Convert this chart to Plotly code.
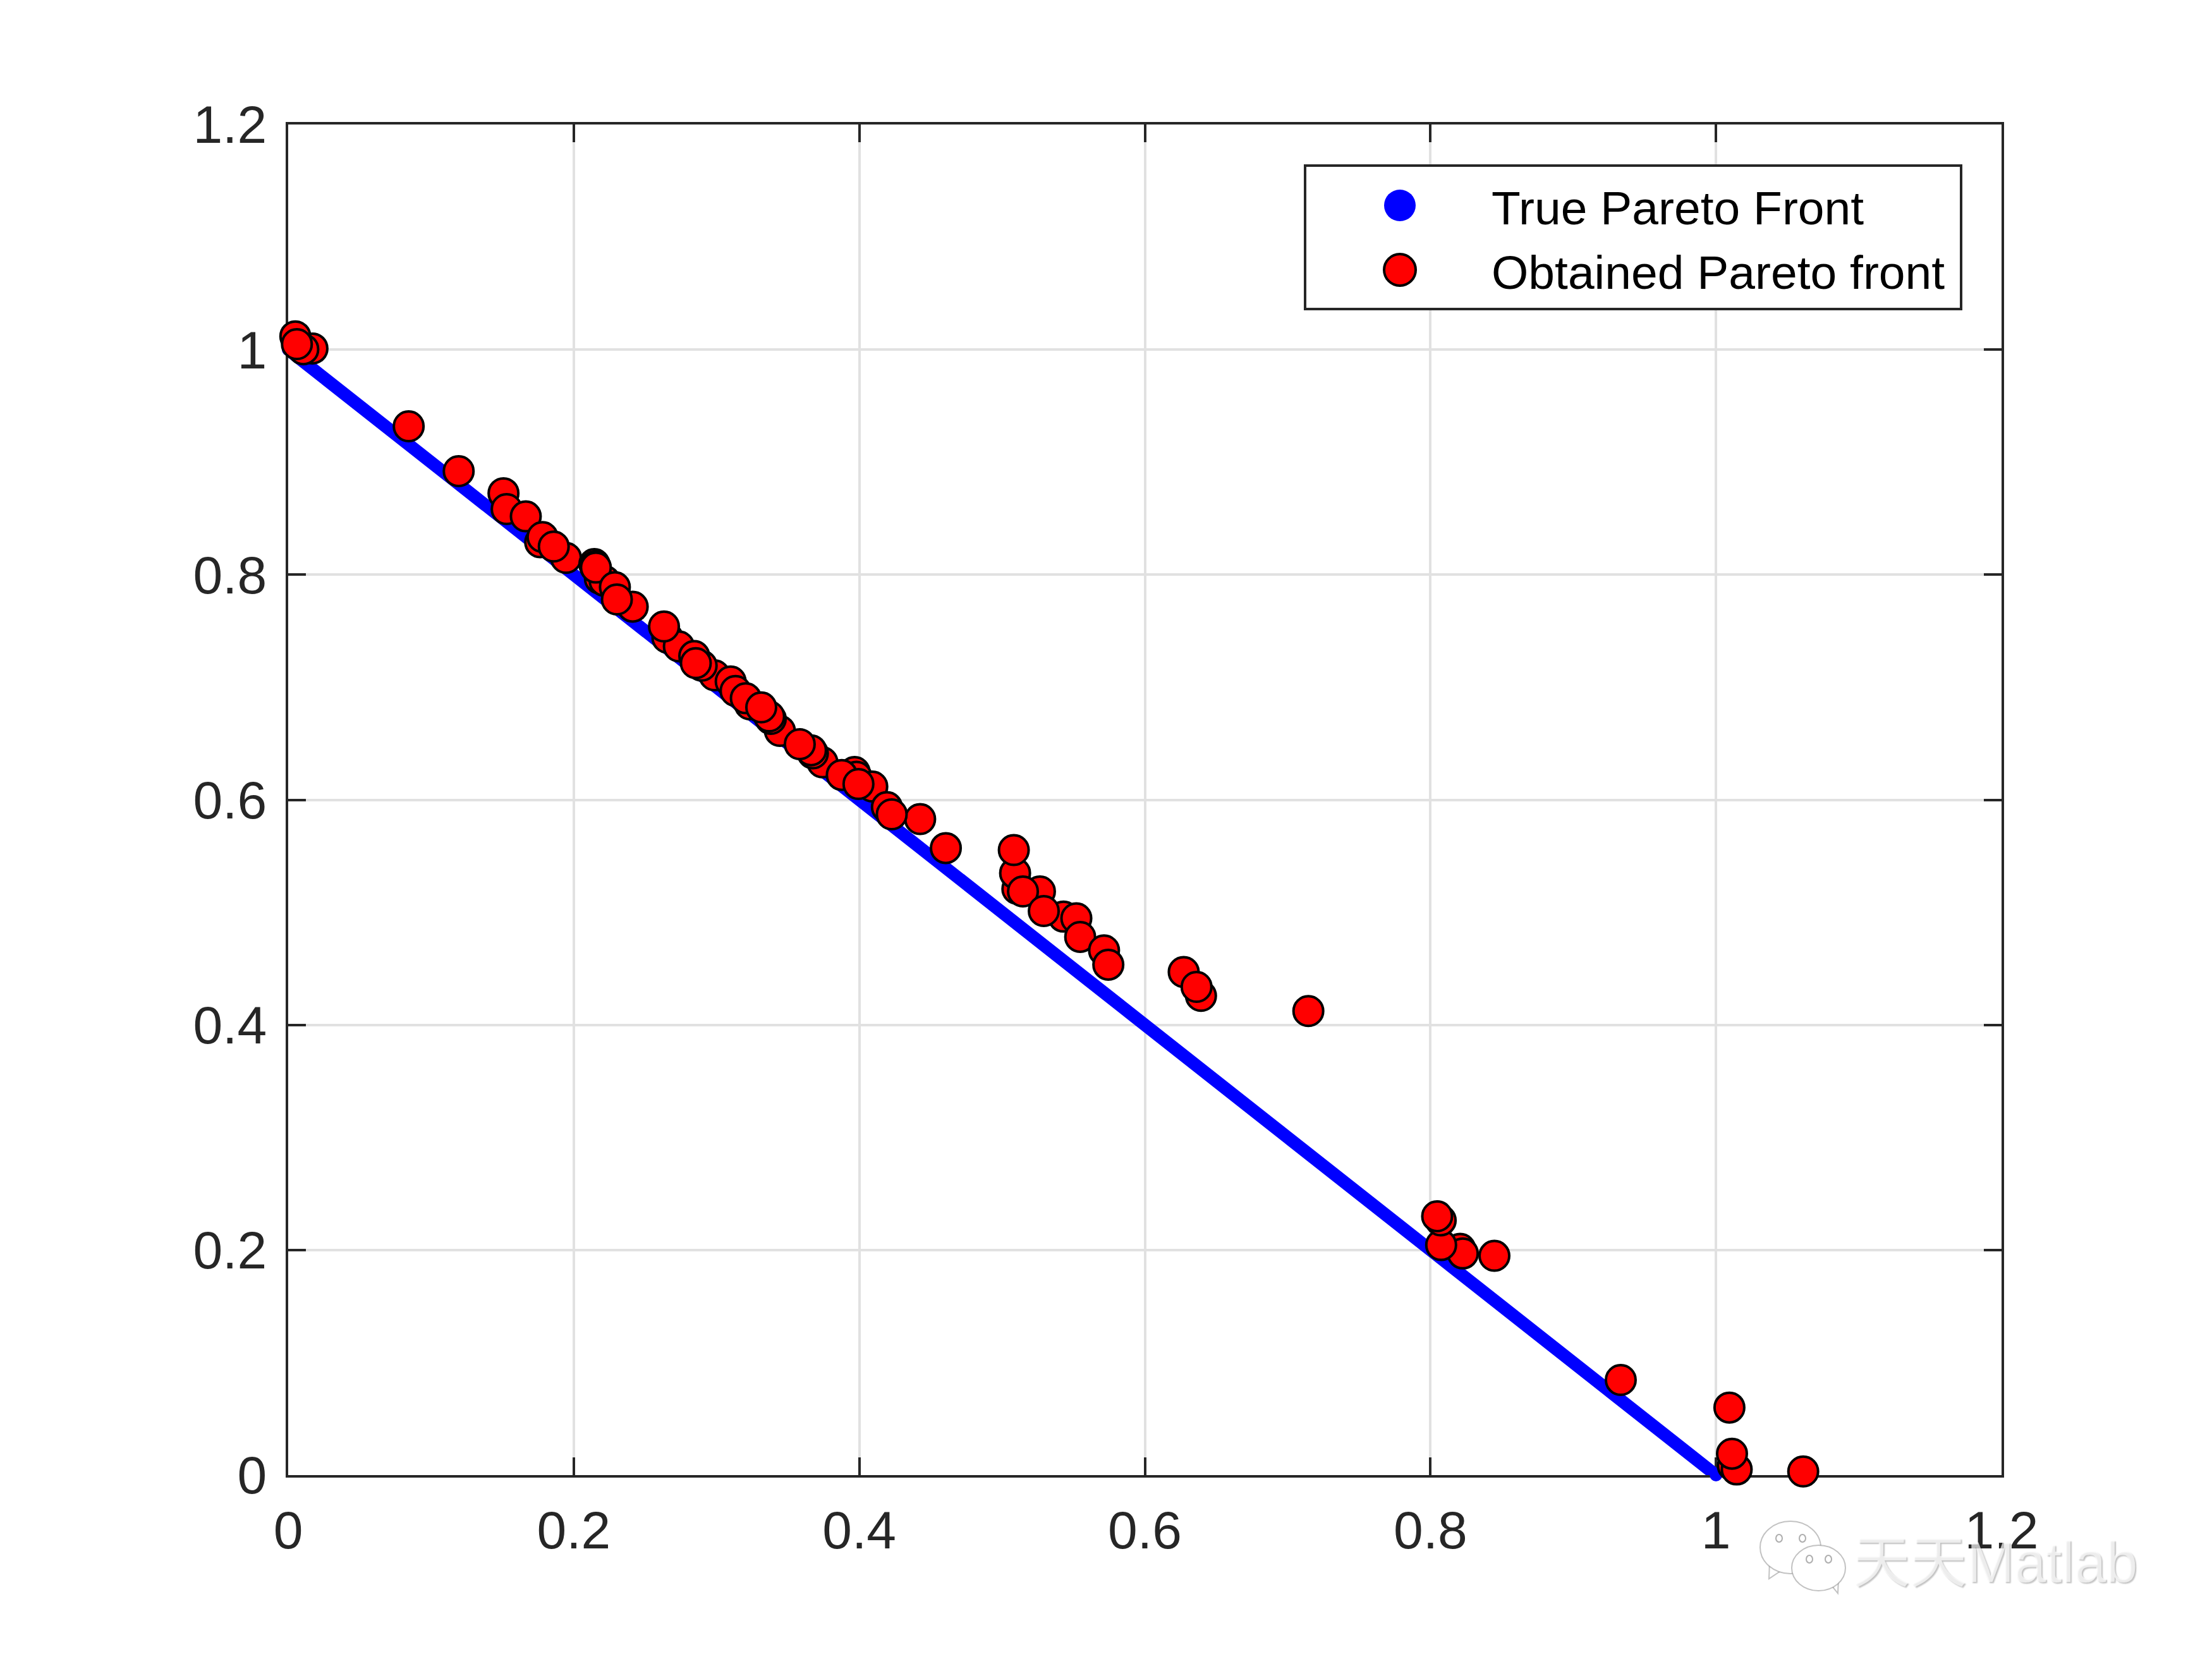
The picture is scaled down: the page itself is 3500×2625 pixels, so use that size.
import plotly.graph_objects as go

WIDTH, HEIGHT = 3500, 2625
LEFT, RIGHT, TOP, BOTTOM = 456, 3167, 197, 2334

tick_values = [0, 0.2, 0.4, 0.6, 0.8, 1, 1.2]
tick_labels = ["0", "0.2", "0.4", "0.6", "0.8", "1", "1.2"]

true_front_x = [0, 1]
true_front_y = [1, 0]

obtained_x = [
    0.0170, 0.0050, 0.0106, 0.0061, 0.0844, 0.1194, 0.1508, 0.1530, 0.1664, 0.1765,
    0.1781, 0.1946, 0.1860, 0.2183, 0.2216, 0.2144, 0.2150, 0.2155, 0.2413, 0.2288,
    0.2302, 0.2656, 0.2736, 0.2632, 0.2986, 0.2896, 0.2844, 0.2855, 0.3099, 0.3133,
    0.3234, 0.3205, 0.3444, 0.3380, 0.3369, 0.3313, 0.3742, 0.3675, 0.3662, 0.3583,
    0.3967, 0.3980, 0.3877, 0.4091, 0.3994, 0.4426, 0.4193, 0.4227, 0.4606, 0.5107,
    0.5091, 0.5082, 0.5265, 0.5146, 0.5430, 0.5292, 0.5520, 0.5547, 0.5714, 0.5744,
    0.6393, 0.6272, 0.6362, 0.7145, 0.8208, 0.8227, 0.8075, 0.8072, 0.8047, 0.8448,
    0.9333, 1.0094, 1.0118, 1.0145, 1.0112, 1.0611,
]
obtained_y = [
    1.0010, 1.0118, 1.0003, 1.0049, 0.9319, 0.8920, 0.8724, 0.8583, 0.8518, 0.8288,
    0.8335, 0.8149, 0.8250, 0.7966, 0.7945, 0.8095, 0.8073, 0.8063, 0.7716, 0.7890,
    0.7780, 0.7440, 0.7363, 0.7540, 0.7106, 0.7192, 0.7277, 0.7214, 0.7052, 0.6967,
    0.6848, 0.6902, 0.6612, 0.6719, 0.6741, 0.6821, 0.6333, 0.6413, 0.6440, 0.6494,
    0.6247, 0.6205, 0.6221, 0.6118, 0.6140, 0.5829, 0.5935, 0.5871, 0.5571, 0.5208,
    0.5348, 0.5554, 0.5186, 0.5186, 0.4962, 0.5012, 0.4947, 0.4782, 0.4662, 0.4535,
    0.4258, 0.4470, 0.4338, 0.4123, 0.2010, 0.1969, 0.2044, 0.2263, 0.2300, 0.1948,
    0.0845, 0.0600, 0.0084, 0.0050, 0.0190, 0.0032,
]

AXIS = "#262626"
GRID = "#e1e1e1"


def px(x):
    return (x - LEFT) / (RIGHT - LEFT)


def py(y):
    return (BOTTOM - y) / (BOTTOM - TOP)


def paper_shape(kind, x0, y0, x1, y1, **kw):
    return dict(type=kind, xref="paper", yref="paper", x0=px(x0), x1=px(x1),
                y0=py(y0), y1=py(y1), layer="above", **kw)


def logo_path(points):
    return "M " + " L ".join(f"{px(a):.5f},{py(b):.5f}" for a, b in points) + " Z"


fig = go.Figure()
fig.add_trace(go.Scatter(x=true_front_x, y=true_front_y, mode="lines+markers", showlegend=False,
                         cliponaxis=False, line=dict(color="#0000ff", width=20),
                         marker=dict(color="#0000ff", size=20, line=dict(width=0))))
fig.add_trace(go.Scatter(x=obtained_x, y=obtained_y, mode="markers", showlegend=False,
                         cliponaxis=False,
                         marker=dict(color="#ff0000", size=47, line=dict(color="black", width=4))))
# Legend entries: native text, the large symbols are circles laid under the legend layer.
fig.add_trace(go.Scatter(x=[None], y=[None], mode="markers", name="True Pareto Front",
                         legendgroup="a", marker=dict(color="#0000ff", size=16, line=dict(width=0))))
fig.add_trace(go.Scatter(x=[None], y=[None], mode="markers", name="Obtained Pareto front",
                         legendgroup="b", marker=dict(color="#ff0000", size=16, line=dict(width=0))))

axis_style = dict(
    range=[0, 1.2], tickmode="array", tickvals=tick_values, ticktext=tick_labels,
    tickfont=dict(family="Liberation Sans, Arial", size=84, color=AXIS),
    ticks="inside", ticklen=28, tickwidth=4, tickcolor=AXIS,
    showline=True, linecolor=AXIS, linewidth=4, mirror="ticks",
    showgrid=True, gridcolor=GRID, gridwidth=4, zeroline=False, layer="below traces",
)

shapes = [
    paper_shape("rect", 2065, 262, 3103, 489, line=dict(color=AXIS, width=4), fillcolor="white"),
    paper_shape("circle", 2190, 300, 2240, 350, line=dict(width=0), fillcolor="#0000ff"),
    paper_shape("circle", 2190, 402, 2240, 452, line=dict(color="black", width=4), fillcolor="#ff0000"),
]
# WeChat-style watermark at the lower right.
wm = dict(line=dict(color="rgba(120,120,120,0.45)", width=2), fillcolor="white")
eye = dict(line=dict(color="rgba(120,120,120,0.6)", width=2), fillcolor="white")
shapes += [
    dict(type="path", xref="paper", yref="paper", layer="above",
         path=logo_path([(2800, 2470), (2799, 2498), (2820, 2484)]), **wm),
    paper_shape("circle", 2785, 2407, 2881, 2490, **wm),
    paper_shape("circle", 2810, 2428, 2820, 2440, **eye),
    paper_shape("circle", 2847, 2428, 2857, 2440, **eye),
    dict(type="path", xref="paper", yref="paper", layer="above",
         path=logo_path([(2895, 2505), (2908, 2521), (2909, 2498)]), **wm),
    paper_shape("circle", 2835, 2445, 2920, 2517, **wm),
    paper_shape("circle", 2858, 2461, 2868, 2473, **eye),
    paper_shape("circle", 2888, 2461, 2898, 2473, **eye),
]

xaxis_style = dict(axis_style, ticklabelstandoff=11)
yaxis_style = dict(axis_style, ticklabelstandoff=13)

fig.update_layout(
    width=WIDTH, height=HEIGHT, paper_bgcolor="white", plot_bgcolor="white",
    margin=dict(l=LEFT, r=WIDTH - RIGHT, t=TOP, b=HEIGHT - BOTTOM, pad=0, autoexpand=False),
    xaxis=xaxis_style, yaxis=yaxis_style, shapes=shapes,
    showlegend=True,
    legend=dict(x=px(2065), y=py(270), xanchor="left", yanchor="top", bgcolor="rgba(0,0,0,0)",
                borderwidth=0, itemwidth=285, tracegroupgap=2, itemclick=False, itemdoubleclick=False,
                font=dict(family="Liberation Sans, Arial", size=75, color="black")),
    annotations=[dict(
        text="天天Matlab", xref="paper", yref="paper", x=px(2930), y=py(2472),
        xanchor="left", yanchor="middle", showarrow=False,
        font=dict(family="Liberation Sans, Noto Sans CJK SC", size=90, color="rgba(255,255,255,0.7)",
                  shadow="2px 2px 2px rgba(0,0,0,0.35)"),
    )],
)

fig.write_html("out.html", config={"displayModeBar": False},
               post_script="document.body.style.margin='0';")
